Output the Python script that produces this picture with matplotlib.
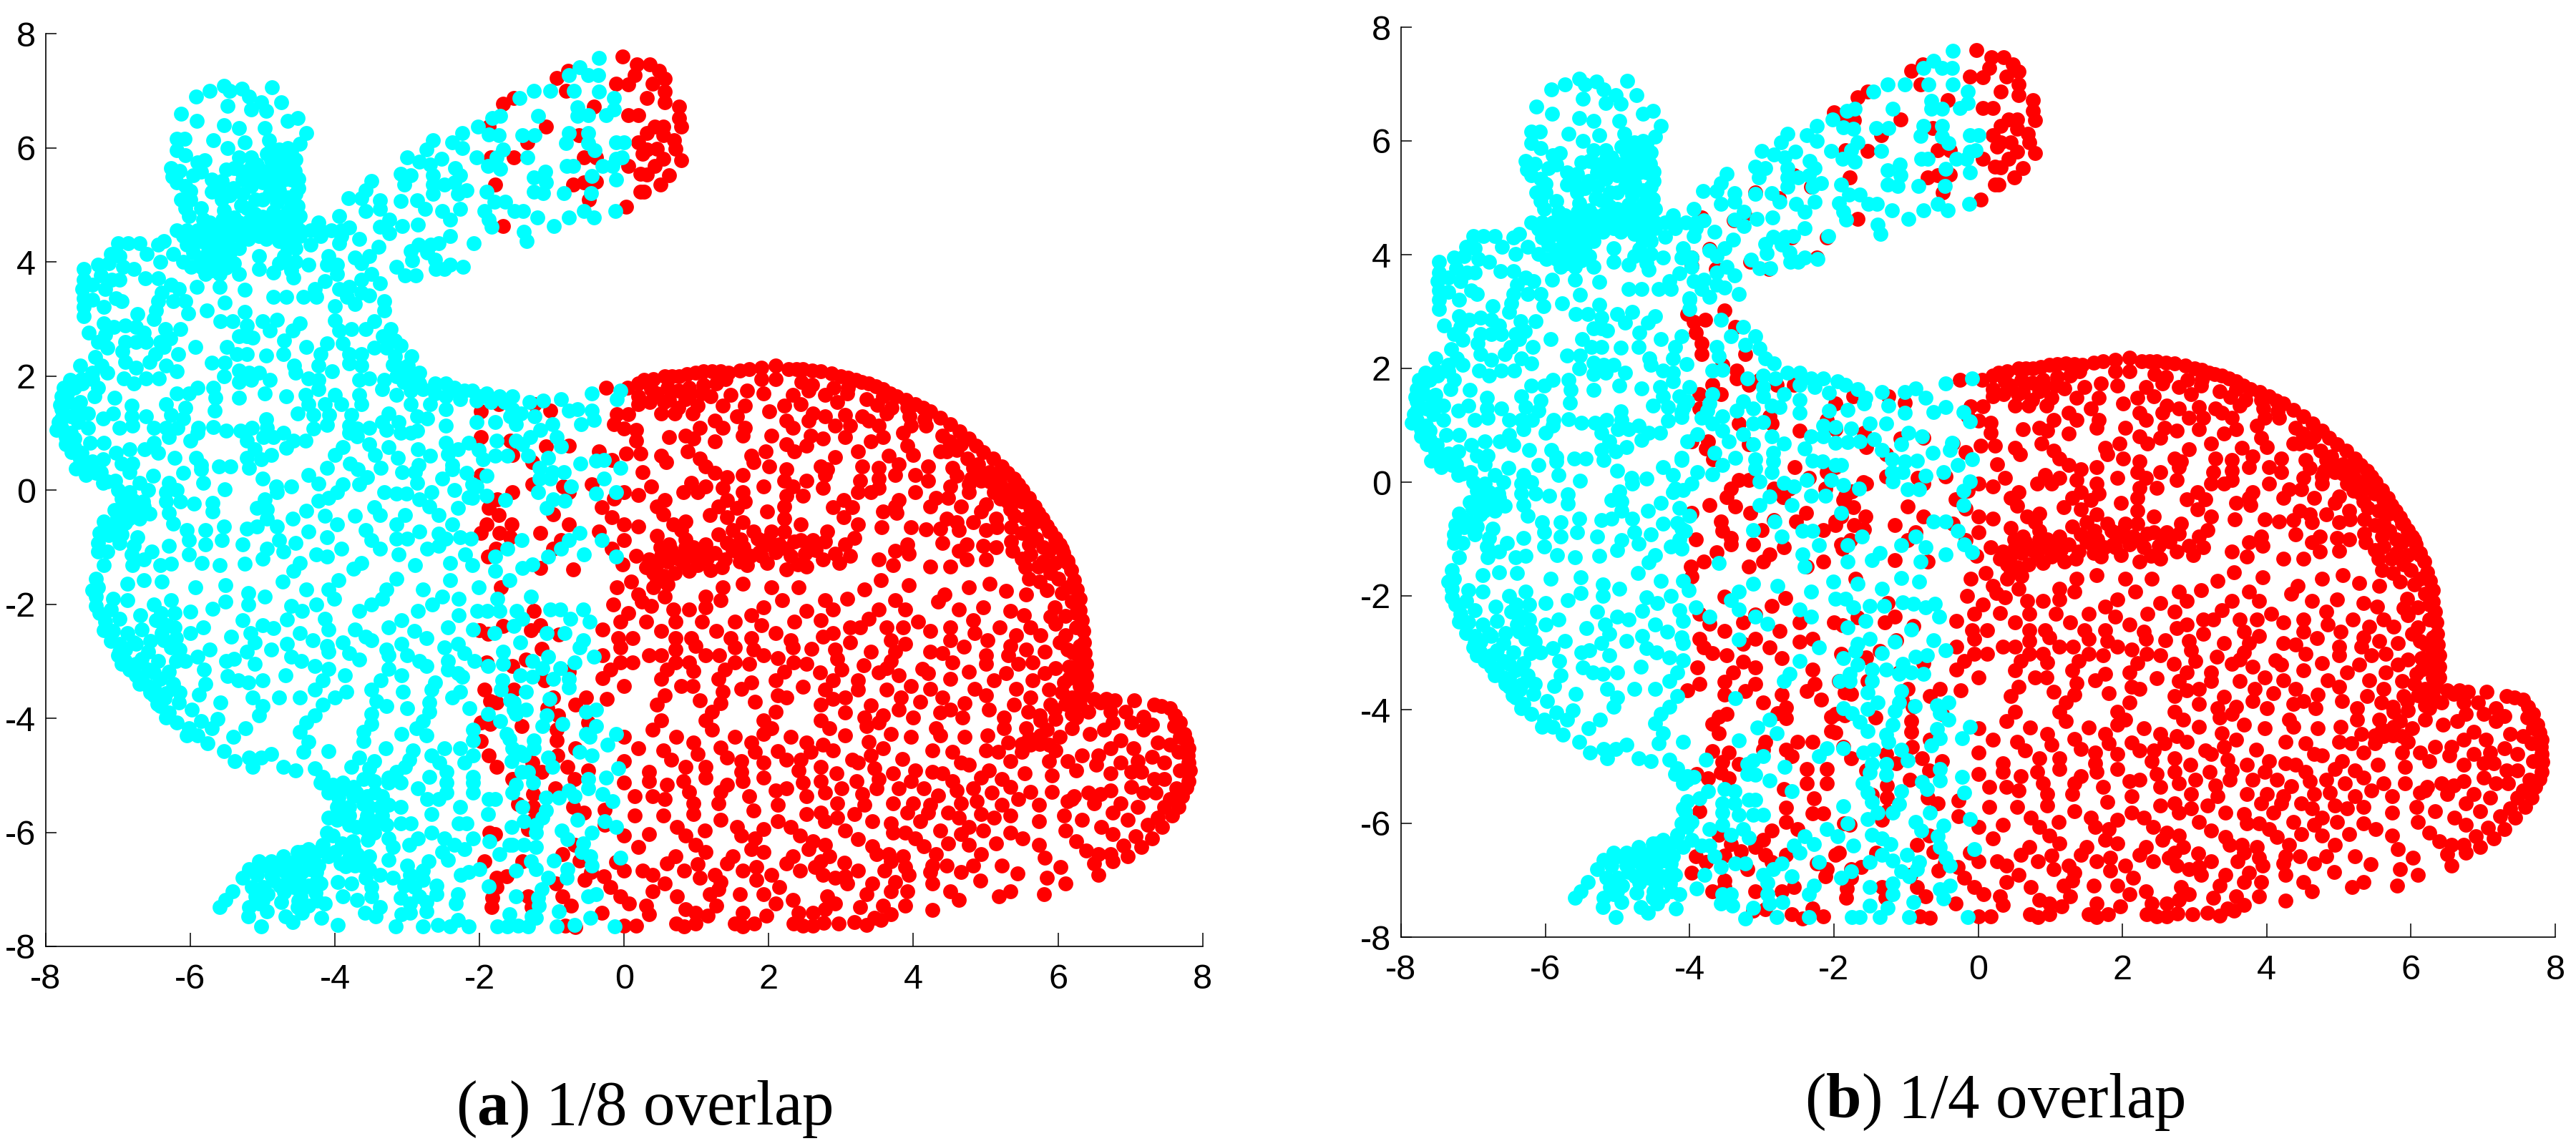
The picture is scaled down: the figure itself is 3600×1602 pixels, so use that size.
#!/usr/bin/env python3
import numpy as np
import matplotlib
matplotlib.use('Agg')
import matplotlib.pyplot as plt

plt.rcParams['font.family'] = ['Liberation Sans', 'DejaVu Sans']
plt.rcParams['axes.unicode_minus'] = False
plt.rcParams['mathtext.fontset'] = 'custom'
plt.rcParams['mathtext.bf'] = 'Liberation Serif:bold'
plt.rcParams['mathtext.rm'] = 'Liberation Serif'

ticks = [-8, -6, -4, -2, 0, 2, 4, 6, 8]
captions = [r'($\mathbf{a}$) 1/8 overlap', r'($\mathbf{b}$) 1/4 overlap']

# head, ear and front of the bunny
ear_cyan = [(-5.92,6.9),(-5.73,7.0),(-5.53,7.09),(-5.45,7.0),(-5.29,7.04),(-5.19,6.9),(-5.02,6.8),(-4.87,7.06),(-4.74,6.8),(-5.16,6.67),(-4.95,6.65),(-5.48,6.74),(-4.51,6.53),(-4.65,6.48),(-4.4,6.26),(-6.13,6.6),(-5.91,6.48),(-5.53,6.4),(-5.33,6.35),(-4.97,6.35),(-6.19,6.16),(-6.08,6.16),(-5.68,6.13),(-5.25,6.1),(-4.91,6.13),(-4.48,6.07),(-4.65,6.0),(-5.48,6.0),(-5.33,5.84),(-5.16,5.84),(-4.94,5.9),(-4.71,5.78),(-4.54,5.8),(-6.19,5.96),(-6.07,5.87),(-6.27,5.65),(-5.8,5.78),(-5.9,5.75),(-5.96,5.52),(-5.5,5.62),(-5.2,5.6),(-5.0,5.6),(-4.85,5.6),(-4.68,5.65),(-4.5,5.46),(-4.7,5.45),
(-6.19,5.39),(-6.07,5.33),(-6.13,5.1),(-6.07,4.94),(-6.02,4.81),(-5.85,4.94),(-5.82,4.75),(-5.7,5.23),(-5.56,5.1),(-5.53,4.91),(-5.39,4.78),(-5.45,5.17),(-5.28,5.45),(-5.28,5.2),(-5.22,4.95),(-5.11,4.85),(-5,5.1),(-5,5.39),(-4.85,4.88),(-4.77,5.26),(-4.65,5.13),(-4.54,5.2),(-4.51,4.98),(-4.48,4.81),(-4.65,4.88),(-4.6,5.45),(-4.94,5.45),(-5.16,5.33),(-5.85,5.58),(-5.7,5.45),(-5.56,5.42),(-5.39,5.65),(-5.08,5.71),(-4.88,5.78),(-4.77,5.97),(-4.88,5.97),(-5.33,4.69),(-5.13,4.75),(-5.73,4.69),(-5.53,4.65),(-4.71,4.69),(-4.54,4.69),(-4.91,4.69),
(-6.19,4.56),(-5.9,4.56),(-5.62,4.56),(-5.33,4.56),(-5.05,4.56),(-4.77,4.56),(-4.48,4.56),(-4.2,4.56),(-3.91,4.56),(-6.05,4.56),(-5.76,4.56),(-5.47,4.56),(-5.19,4.56),(-4.91,4.56),(-4.62,4.56),(-4.34,4.56),(-4.05,4.56),(-5.9,4.46),(-5.62,4.46),(-5.33,4.46),(-5.05,4.46),(-4.77,4.46),(-4.48,4.46),(-4.2,4.46),(-3.91,4.46),(-4.23,4.69),(-3.94,4.81),(-3.8,4.6),
(-6.36,4.37),(-6.44,4.3),(-6.24,4.14),(-6.41,4.01),(-6.1,4.01),(-6.05,4.3),(-5.96,4.17),(-5.87,4.37),(-5.73,4.37),(-5.62,4.24),(-5.48,4.37),(-5.33,4.24),(-5.79,4.11),(-5.99,3.92),(-5.85,3.92),(-5.68,3.98),(-5.53,4.05),(-5.39,3.98),(-5.79,3.79),(-5.59,3.79),(-5.33,3.79),(-5.91,3.56),(-5.59,3.56),(-5.25,3.52),(-5.05,4.11),(-5.05,3.88),(-4.85,3.82),(-4.77,3.98),(-4.65,4.24),(-4.54,4.24),(-4.65,3.98),(-4.54,4.01),(-4.57,3.73),(-4.37,3.95),(-4.34,4.31),(-4.77,4.37),(-3.94,4.33),(-3.66,4.4),(-3.72,4.08),(-4.09,4.11),(-4.11,3.95),(-3.97,3.95),(-3.97,3.79),(-4.14,3.67),(-4.28,3.53),(-4.43,3.39),(-4.26,3.39),(-4.67,3.39),(-4.85,3.39),(-3.94,3.53),(-3.8,3.56),(-3.83,3.39),(-3.63,3.47),(-3.52,3.42),(-3.63,3.69),(-3.49,3.79),(-3.38,3.63),(-3.32,3.31),
(-5.6,5.3),(-5.4,5.3),(-5.3,5.0),(-5.1,5.1),(-4.9,5.2),(-4.8,5.05),(-4.75,4.8),(-4.6,5.0),(-4.5,5.3),(-5.2,4.7),(-5,4.8),(-5.55,4.75),(-5.4,4.6),(-5.7,4.5),(-5.55,4.35),(-5.75,4.25),(-5.45,4.15),(-5.65,4.1),(-5.85,4.05),(-6,4.45),(-6.1,4.45),(-4.95,4.4),(-4.6,4.4),(-4.7,4.1),(-4.6,3.85),(-5.5,3.9),(-5.7,3.85),(-5.2,4.4),(-4.85,5.4),(-4.7,5.6),(-4.55,5.6),(-5.1,5.5),(-5.3,5.6),(-5.15,5.7),(-4.8,5.75),(-4.6,5.95),(-6.25,5.5),(-6.15,5.6),(-6.0,5.1),(-6.0,5.25)]
ear2_cyan = [(-.35,7.58),(-.62,7.41),(-.76,7.28),(-.5,7.28),(-.36,7.28),(-.69,7),(-.35,6.99),(-.14,6.87),(-1.02,7),(-1.25,7),(-1.45,6.87),(-.65,6.71),(-.14,6.67),(-.65,6.56),(-.5,6.57),(-.25,6.58),(-1.19,6.56),(-1.71,6.56),(-1.82,6.53),(-2.02,6.38),(-2.24,6.26),(-1.87,6.24),(-1.73,6.22),(-1.41,6.23),(-1.24,6.23),(-.76,6.26),(-.5,6.26),(-.8,6.09),(-.11,6.1),(0,6.1),(-.5,6.08),(-.41,5.96),(-2.64,6.13),(-2.38,6.1),(-2.24,6.0),(-2.73,5.97),(-1.67,5.97),(-2.53,5.81),(-2.04,5.83),(-1.34,5.83),(-3,5.83),(-2.83,5.76),(-2.68,5.71),(-1.76,5.84),(-1.88,5.68),(-1.71,5.63),(-.79,5.68),(-.7,5.68),(-.3,5.68),(-.11,5.81),(-.03,5.84),(-.16,5.68),(-3.09,5.55),(-2.95,5.52),(-2.64,5.52),(-2.34,5.65),(-2.27,5.52),(-.45,5.51),(-1.09,5.58),(-1.25,5.49),(-1.08,5.39),(-.11,5.45),(-3.04,5.36),(-2.64,5.36),(-2.49,5.36),(-2.35,5.39),(-3.49,5.42),(-2.18,5.26),(-1.9,5.23),(-1.25,5.23),(-1.12,5.21),(-.83,5.21),(-.46,5.21),(-2.64,5.2),(-2.3,5.2),(-3.57,5.26),(-3.09,5.07),(-3.81,5.12),(-3.63,5.12),(-3.38,5.08),(-2.86,5.08),(-1.79,5.06),(-1.64,5.06),(-1.93,4.9),(-2.75,4.93),(-2.52,4.89),(-2.27,4.93),(-1.52,4.89),(-1.4,4.89),(-.56,4.89),(-.12,4.89),(-3.57,4.89),(-3.38,4.93),(-3.25,4.75),(-2.41,4.75),(-1.87,4.75),(-1.2,4.78),(-.76,4.78),(-.42,4.78),(-3.07,4.63),(-2.85,4.65),(-1.83,4.62),(-.97,4.63),(-3.38,4.62),(-3.25,4.5),(-1.39,4.53),(-2.41,4.46),(-1.35,4.37),(-2.08,4.33),(-2.84,4.31),(-2.67,4.31),(-2.56,4.33),(-2.95,4.19),(-2.72,4.17),(-2.93,4.03),(-2.61,4.04),(-2.6,3.88),(-2.41,3.95),(-2.23,3.92),(-3.15,3.91),(-3.03,3.76),(-2.88,3.76),(-2.49,3.88),(-3.4,4.27),(-3.52,4.11),(-3.63,3.98)]

# body of panel (a), cyan side, strip by strip going down
body_cyan = [(-7.47,3.88),(-7.47,3.69),(-7.49,3.53),(-7.47,3.37),(-7.47,3.21),(-7.47,3.05),(-7.27,3.95),(-7.24,3.76),(-7.35,3.6),(-7.35,3.34),(-7.2,3.21),(-7.18,3.53),(-7.09,3.69),(-7.03,3.37),(-6.95,3.31),(-7.1,4.14),(-7,4.33),(-6.86,4.33),(-6.7,4.33),(-6.6,4.14),(-6.98,4.11),(-6.93,3.92),(-7.13,3.98),(-6.98,3.69),(-6.78,3.88),(-6.62,3.71),(-6.44,3.71),(-6.27,3.6),(-6.16,3.53),(-6.39,3.47),(-6.44,3.31),(-6.24,3.31),(-6.07,3.31),(-6.47,3.15),(-6.03,3.1),(-5.77,3.15),(-5.52,3.29),(-6.5,3),(-6.73,3.09),(-5.25,3.12),(-5.58,2.96),(-5.41,2.96),(-5,2.96),(-4.8,2.99),(-4.48,2.92),(-5.22,2.89),(-4.9,2.8),(-4.58,2.8),(-6.34,2.83),(-6.14,2.83),(-5.22,2.7),(-5.33,2.7),(-5.14,2.67),(-4.7,2.63),(-6.28,2.66),(-4,3.23),(-3.72,3.26),(-3.32,3.15),(-4,2.97),(-3.46,2.96),(-3.94,2.8),(-3.77,2.83),(-3.57,2.83),(-3.23,2.83),(-3.89,2.57),(-3.34,2.7),(-3.17,2.63),(-3.46,2.5),(-3.29,2.5),(-3.09,2.54),(-3.8,2.38),(-3.63,2.38),(-3.17,2.35),(-2.94,2.35),(-3.8,2.22),(-3.63,2.18),(-2.99,2.18),(-2.83,2.06),(-3.66,1.94),(-3.52,1.96),(-3.32,1.93),(-3.15,2),(-2.95,2),(-2.83,1.87),(-3.35,1.77),(-3.15,1.67),(-2.95,1.74),(-2.78,1.77),(-2.95,1.51),(-2.68,1.51),(-3.2,2.2),(-3.1,2.15),(-3.05,2.0),(-3.05,1.9),(-2.95,1.9),
(-7.4,2.76),(-7.2,2.92),(-7.06,2.86),(-7.18,2.73),(-7.27,2.6),(-6.9,2.89),(-6.75,2.86),(-6.64,2.76),(-6.75,2.6),(-6.9,2.6),(-6.61,2.6),(-6.41,2.6),(-6.36,2.51),(-5.93,2.51),(-5.49,2.51),(-5.36,2.38),(-5.22,2.38),(-4.4,2.51),(-4.11,2.57),(-4.71,2.38),(-4.95,2.36),(-4.2,2.38),(-7.15,2.5),(-7.31,2.34),(-6.94,2.44),(-6.48,2.38),(-6.17,2.38),(-5.7,2.23),(-5.52,2.23),(-6.33,2.18),(-6.56,2.25),(-4.56,2.18),(-4.23,2.18),(-7.52,2.18),(-7.23,2.18),(-6.9,2.25),(-6.75,2.15),(-6.19,2.09),(-4.54,2.06),(-4.04,2.08),(-5.33,2.1),(-5.19,2.06),(-5.05,2.06),(-5.53,2),
(-7.35,2.06),(-7.15,2.06),(-6.92,1.96),(-6.78,1.87),(-6.61,1.96),(-6.43,1.96),(-4.37,1.96),(-4.23,1.93),(-7.66,1.93),(-7.49,1.87),(-7.27,1.8),(-5.33,1.9),(-5.16,1.93),(-4.9,1.93),(-5.68,1.8),(-5.9,1.8),(-6.19,1.7),(-6.02,1.7),(-4.23,1.77),(-7.75,1.8),(-7.05,1.62),(-5.65,1.62),(-5.33,1.62),(-4.97,1.7),(-4.67,1.65),(-4.41,1.67),(-4,1.67),(-3.66,1.67),(-7.78,1.64),(-7.52,1.54),(-7.32,1.64),(-6.33,1.51),(-6.07,1.44),(-6.81,1.48),(-4.37,1.51),(-4.14,1.51),(-3.91,1.51),(-3.63,1.51),(-7.78,1.42),(-7.41,1.35),(-7.07,1.35),(-6.81,1.29),(-6.61,1.29),(-6.27,1.32),(-6.1,1.26),(-5.66,1.39),(-4.51,1.34),(-4.3,1.32),(-4.08,1.32),(-3.77,1.32),(-3.26,1.35),(-2.86,1.29),(-2.72,1.26),(-7.78,1.26),(-7.21,1.26),(-4.95,1.25),(-3.35,1.2),(-3.12,1.2),(-7.78,1.1),(-7.41,1.1),(-6.98,1.1),(-6.8,1.13),(-6.5,1.1),(-6.33,1.1),(-6.18,1.1),(-5.89,1.1),(-5.68,1.11),(-5.15,1.1),(-4.94,1.1),(-4.11,1.15),(-3.8,1.13),(-3.52,1.1),(-7.72,.93),(-5.5,1.04),(-5.31,1.04),(-4.71,1),(-4.3,1.08),(-3.8,1),(-3.69,1.08),(-3.29,1.05),(-3.09,1),(-2.86,1.04),(-6.3,.93),(-5.9,1),(-7.72,.8),(-7.38,.83),(-7.2,.83),(-6.5,.83),(-6,.87),(-5.22,.87),(-4.99,.93),(-4.85,.93),(-4.57,.87),(-4.41,.87),(-3.69,.94),(-2.95,1),(-2.47,.83),(-7.64,.67),(-6.84,.72),(-6.63,.72),(-6.44,.66),(-7.03,.66),(-5.11,.72),(-4.67,.74),(-3.89,.76),(-3.52,.8),(-3.26,.76),(-2.85,.72),(-7.52,.54),(-7.21,.54),(-6.22,.57),(-5.92,.57),(-5.22,.57),(-5.02,.54),(-4.88,.62),(-4,.62),(-3.45,.62),(-3.13,.57),(-2.68,.6),(-2.44,.63),(-2.3,.72),(-7.58,.38),(-6.95,.47),(-6.8,.47),(-5.85,.44),(-5.6,.42),(-5.44,.42),(-3.79,.47),(-2.84,.44),(-2.38,.44),(-7.44,.26),(-7.24,.32),(-6.84,.32),(-5.85,.36),(-5.19,.39),(-4.11,.39),(-3.68,.36),(-3.37,.39),(-3.07,.32),(-2.89,.32),(-2.38,.36),(-2.18,.3),(-7.21,.13),(-7.04,.17),(-6.51,.25),(-6.1,.3),(-6.3,.13),(-5.82,.13),(-5,.2),(-4.37,.26),(-3.55,.23),(-2.52,.2),(-2.1,.1),(-6.84,-.03),(-6.7,.13),(-6.58,0),(-6.33,-.03),(-6.19,0),(-5.52,.02),(-4.81,.07),(-4.6,.06),(-4.23,.12),(-3.89,.1),(-3.66,.1),(-2.86,.13),(-1.9,-.1),(-2.04,.07),
(-7.8,1.5),(-7.7,1.7),(-7.65,1.3),(-7.65,1.0),(-7.68,1.55),(-7.6,1.8),(-7.55,1.2),(-7.6,.9),(-7.6,.75),(-7.5,.65),(-7.45,.45),(-7.35,.5),(-7.3,.3),(-7.15,.15),(-7.82,1.2),(-7.85,1.05),(-7.55,1.4),(-7.5,1.95),(-7.35,1.95),(-7.0,.0),(-6.95,-.15),(-6.9,-.3),(-7.05,-.35),(-6.65,-.2),(-6.75,-.35),(-7.2,-.55),(-7.25,-.75),(-7.05,-.7),(-6.95,-.78),(-6.85,-.5),
(-6.78,-.18),(-6.33,-.2),(-6.14,-.2),(-5.95,-.24),(-5.69,-.22),(-4.97,-.16),(-4.8,-.03),(-3.97,-.03),(-3.32,-.03),(-3.15,-.06),(-3.01,-.06),(-2.66,-.03),(-2.35,0),(-2.15,-.12),(-6.64,-.28),(-6.87,-.34),(-7.01,-.47),(-7.15,-.64),(-6.9,-.57),(-6.7,-.5),(-6.56,-.41),(-5.69,-.38),(-5.08,-.31),(-4.94,-.34),(-4.4,-.36),(-4.23,-.18),(-4.09,-.14),(-3.46,-.3),(-3.38,-.44),(-2.83,-.16),(-2.69,-.28),(-2.3,-.31),(-2.1,-.14),(-6.3,-.4),(-6.24,-.59),(-4.94,-.5),(-4.58,-.5),(-4.14,-.45),(-3.72,-.45),(-3.03,-.44),(-2.56,-.44),(-3.15,-.6),(-2.83,-.73),(-7.27,-.92),(-7.13,-.79),(-6.98,-.92),(-6.73,-.82),(-6.05,-.7),(-5.79,-.7),(-5.53,-.64),(-5.22,-.67),(-5.08,-.64),(-4.8,-.64),(-4.37,-.73),(-3.97,-.6),(-3.57,-.7),(-2.38,-.6),
(-7.27,-1.07),(-7.15,-1.07),(-6.78,-.98),(-6.81,-1.13),(-6.53,-1.07),(-6.3,-.98),(-6.02,-.88),(-6.02,-1.13),(-5.79,-.95),(-5.56,-.88),(-5.28,-.95),(-4.94,-1.02),(-4.77,-.88),(-4.54,-.92),(-4.11,-.82),(-3.91,-1.02),(-3.49,-.88),(-3.15,-.85),(-3,-.85),(-2.56,-.76),(-2.47,-.85),(-2.27,-.82),(-2.12,-.85),(-2.72,-1.02),(-2.56,-.98),(-4.71,-1.08),(-4.26,-1.13),(-4.11,-1.16),(-3.38,-1.02),(-3.12,-1.13),(-2.2,-1.13),(-7.2,-1.32),(-6.8,-1.32),(-6.64,-1.22),(-6.41,-1.32),(-6.27,-1.29),(-5.84,-1.28),(-5.59,-1.32),(-5.25,-1.29),(-5,-1.2),(-4.48,-1.28),(-4.57,-1.41),(-3.63,-1.28),(-3.74,-1.38),(-2.89,-1.32),(-2.41,-1.28),(-2.1,-1.32),(-1.78,-1.41),
(-7.27,-1.7),(-7.3,-1.87),(-7.07,-1.9),(-6.87,-1.64),(-6.64,-1.58),(-6.39,-1.6),(-5.93,-1.7),(-5.51,-1.67),(-5.2,-1.8),(-4.97,-1.87),(-4.72,-1.6),(-4.4,-1.74),(-4.09,-1.74),(-3.95,-1.58),(-3.29,-1.74),(-3.15,-1.55),(-2.78,-1.74),(-2.41,-1.58),(-2.01,-1.7),(-1.59,-1.58),(-7.3,-2.03),(-7.1,-2.09),(-6.87,-1.93),(-6.69,-2.19),(-6.5,-2),(-6.27,-1.93),(-6,-2.13),(-5.69,-2.08),(-5.51,-1.95),(-5.2,-2),(-4.6,-2.03),(-4.45,-2.12),(-4.26,-2),(-4.01,-1.9),(-3.66,-2.12),(-3.49,-2),(-3.35,-1.9),(-3.08,-2.28),(-2.85,-2.12),(-2.65,-2),(-2.52,-1.87),(-2.29,-1.9),(-2.03,-2.12),(-1.89,-2.12),(-1.72,-2.12),(-1.75,-1.9),
(-7.18,-2.31),(-6.98,-2.25),(-6.47,-2.28),(-6.22,-2.15),(-6.31,-2.37),(-5.82,-2.41),(-5.28,-2.28),(-5,-2.37),(-4.85,-2.42),(-4.66,-2.27),(-4.14,-2.25),(-4.09,-2.44),(-3.72,-2.44),(-3.26,-2.41),(-2.44,-2.41),(-2.29,-2.19),(-2.09,-2.44),(-1.49,-2.12),(-1.29,-1.87),(-1.41,-2.25),(-1.53,-2.38),(-1.02,-2.09),(-.88,-2.09),(-.74,-2.25),(-.57,-2.09),(-.48,-2.31),(-7.07,-2.47),(-6.87,-2.5),(-6.67,-2.44),(-6.39,-2.5),(-6.22,-2.41),(-6,-2.5),(-5.43,-2.57),(-5.17,-2.5),(-4.31,-2.63),(-4.48,-2.5),(-3.57,-2.57),(-3.49,-2.63),(-2.9,-2.47),(-2.73,-2.6),(-1.79,-2.5),(-1.07,-2.5),(-.82,-2.5),(-6.98,-2.7),(-6.78,-2.67),(-6.36,-2.63),(-5.11,-2.67),(-4.66,-2.7),(-4.11,-2.73),(-3.89,-2.67),(-3.08,-2.7),(-2.3,-2.7),(-1.44,-2.67),(-.57,-2.63),(-6.98,-2.83),(-6.58,-2.83),(-6.27,-2.76),(-5.73,-2.79),(-5.22,-2.83),(-4.88,-2.79),(-4.09,-2.83),(-3.8,-2.86),(-3.29,-2.79),(-2.49,-2.76),(-2.21,-2.86),(-1.67,-2.83),(-.62,-2.76),
(-6.9,-2.99),(-6.67,-2.96),(-6.44,-2.99),(-6.07,-2.99),(-5.9,-2.92),(-5.5,-2.99),(-5.39,-2.96),(-4.6,-2.92),(-4.46,-2.99),(-3.66,-2.97),(-3.26,-2.89),(-3,-2.89),(-2.83,-2.99),(-2.44,-2.99),(-2.07,-2.99),(-1.27,-2.99),(-1.05,-2.92),(-.42,-2.92),(-6.84,-3.15),(-6.58,-3.15),(-6.3,-3.18),(-5.81,-3.15),(-5.11,-3.05),(-4.28,-3.08),(-4.09,-3.13),(-3.26,-3.13),(-2.73,-3.08),(-1.88,-3.08),(-1.67,-3.05),(-1.44,-3.24),(-1.27,-3.27),(-1.13,-3.12),(-.88,-3.12),(-.68,-3.02),(-6.67,-3.31),(-6.41,-3.31),(-5.48,-3.26),(-4.68,-3.24),(-3.86,-3.24),(-3.08,-3.24),(-2.44,-3.15),(-2.3,-3.21),(-2.24,-3.27),(-.98,-3.31),(-.76,-3.31),(-6.58,-3.44),(-6.24,-3.4),(-5.79,-3.4),(-5.34,-3.34),(-5.2,-3.37),(-5,-3.34),(-4.17,-3.34),(-3.37,-3.34),(-2.61,-3.37),(-1.68,-3.34),(-.76,-3.46),
(-7.3,-1.55),(-7.35,-1.75),(-7.25,-2.15),(-7.2,-2.45),(-7.1,-2.65),(-7.0,-2.9),(-6.9,-2.8),(-6.95,-3.05),(-6.75,-3.25),(-6.7,-3.4),(-6.55,-3.55),(-6.45,-3.75),(-6.3,-3.9),(-6.75,-3.05),(-6.5,-3.2),(-6.5,-3.45),(-6.35,-3.65),(-6.75,-2.7),(-6.55,-2.65),(-6.4,-2.3),(-6.4,-2.15),(-6.2,-2.6),(-6.15,-2.8),(-6.2,-3.0),(-6.15,-3.55),(-6.05,-4.3),(-5.9,-4.3),
(-6.5,-3.6),(-6.33,-3.56),(-5.88,-3.58),(-5.14,-3.63),(-4.77,-3.63),(-4.48,-3.64),(-4.28,-3.5),(-4,-3.64),(-3.84,-3.53),(-3.49,-3.5),(-3.06,-3.53),(-2.66,-3.5),(-2.38,-3.64),(-2.27,-3.53),(-1.7,-3.5),(-1.36,-3.53),(-6.41,-3.79),(-6.16,-3.72),(-5.58,-3.72),(-5,-3.79),(-4.17,-3.76),(-3.43,-3.7),(-3.29,-3.79),(-2.69,-3.72),(-2.14,-3.82),(-1.53,-3.72),(-1.03,-3.66),(-6.33,-3.98),(-5.98,-3.85),(-5.05,-3.95),(-4.28,-3.95),(-3.49,-3.92),(-3,-3.82),(-2.69,-3.88),(-1.88,-3.92),(-1.5,-3.92),(-1.36,-3.85),(-6.19,-4.08),(-5.85,-4.05),(-5.62,-4.01),(-4.4,-4.08),(-3.49,-4.1),(-2.78,-4.05),(-1.71,-4.05),(-1.07,-3.95),(-6.02,-4.17),(-5.7,-4.17),(-5.24,-4.17),(-4.48,-4.24),(-3.6,-4.24),(-2.87,-4.17),(-2.09,-4.2),(-1.62,-4.27),(-1.13,-4.14),(-.85,-4.1),(-5.4,-4.33),(-3.08,-4.27),(-2.73,-4.3),(-2.09,-4.39),(-1.25,-4.39),(-3.6,-4.4),(-4.37,-4.41),(-5.76,-4.44),
(-5.53,-4.57),(-4.09,-4.57),(-3.3,-4.53),(-2.49,-4.53),(-2.27,-4.53),(-2.92,-4.56),(-4.43,-4.59),(-1.55,-4.53),(-1.25,-4.53),(-5.38,-4.75),(-5.19,-4.69),(-5.02,-4.69),(-4.88,-4.62),(-4.71,-4.85),(-4.54,-4.91),(-4.28,-4.88),(-3.66,-4.69),(-3.46,-4.75),(-2.97,-4.72),(-2.66,-4.65),(-2.09,-4.65),(-1.56,-4.75),(-1.39,-4.65),(-1.05,-4.69),(-5.14,-4.85),(-3.77,-4.85),(-3.52,-4.88),(-2.69,-5.03),(-2.55,-4.78),(-2.21,-4.78),(-3.03,-4.85),(-.99,-4.85),
(-4.17,-5.03),(-4.2,-5.13),(-4.03,-5.17),(-3.89,-5.13),(-3.74,-5.2),(-3.6,-5.07),(-3.46,-5.1),(-3.26,-5.04),(-3.15,-4.94),(-3.26,-5.13),(-3.09,-5.13),(-2.46,-4.94),(-2.46,-5.13),(-2.46,-5.3),(-2.09,-5.03),(-2.09,-5.13),(-2.09,-5.3),(-2.85,-5.23),(-1.33,-4.94),(-1.42,-4.94),(-1.26,-5.13),(-4.09,-5.3),(-3.95,-5.39),(-3.74,-5.36),(-3.55,-5.36),(-3.35,-5.36),(-3.26,-5.52),(-3.09,-5.55),(-2.72,-5.41),(-2.56,-5.41),(-1.87,-5.41),(-1.78,-5.41),(-1.55,-5.3),(-1.5,-5.17),(-1.08,-5.39),(-.9,-5.39),(-.76,-5.26),(-.68,-5.36),(-.5,-5.07),(-.5,-5.23),(-.25,-5.04),(-.3,-5.33),(-.16,-5.46),(-3.97,-5.55),(-3.8,-5.55),(-3.52,-5.55),(-3.38,-5.55),(-2.27,-5.55),(-2.66,-5.68),(-1.88,-5.68),(-1.41,-5.55),(-1.08,-5.62),(-1.13,-5.74),(-1.22,-5.87),(-1.39,-5.81),(-1.56,-5.9),(-.65,-5.78),(-.27,-5.81),(-4.09,-5.74),(-3.97,-5.78),(-3.8,-5.71),(-3.8,-5.87),(-3.57,-5.81),(-3.43,-5.81),(-3.29,-5.87),(-3.09,-5.84),(-2.95,-5.84),(-2.29,-5.84),(-2.18,-5.84),(-.11,-5.9),(-4.11,-6),(-4.03,-6.06),(-3.57,-5.94),(-3.46,-6),(-2.66,-6),(-.86,-5.97),(-.78,-6.12),(-1.22,-6),(-.45,-6),(-.57,-6.2),
(-4.17,-6.22),(-3.91,-6.26),(-3.74,-6.26),(-3.54,-6.13),(-3.26,-6.1),(-2.85,-6.1),(-2.49,-6.1),(-2.09,-6.1),(-1.86,-6.16),(-1.55,-6.22),(-1.39,-6.22),(-1.22,-6.26),(-.59,-6.35),(-4.37,-6.29),(-4.51,-6.35),(-4.71,-6.42),(-4.88,-6.51),(-5.05,-6.51),(-3.2,-6.26),(-2.97,-6.22),(-2.52,-6.35),(-2.35,-6.22),(-2.21,-6.29),(-2.44,-6.48),(-1.72,-6.38),(-1.59,-6.22),(-.47,-6.42),(-.45,-6.58),(-.05,-6.44),(-4.09,-6.42),(-3.8,-6.45),(-3.69,-6.38),(-3.52,-6.42),(-3.26,-6.48),(-3,-6.58),(-2.7,-6.51),(-1.29,-6.51),(-.97,-6.5),(-5.19,-6.64),(-4.99,-6.58),(-4.71,-6.55),(-4.54,-6.51),(-4.37,-6.51),(-4.23,-6.58),(-3.92,-6.55),(-3.72,-6.58),(-3.52,-6.64),(-2.78,-6.67),(-2,-6.64),(-2.15,-6.7),(-1.5,-6.67),(-1.22,-6.64),(-.78,-6.64),(-5.28,-6.8),(-5.08,-6.74),(-4.88,-6.74),(-4.68,-6.7),(-4.45,-6.7),(-4.26,-6.7),(-3.57,-6.8),(-3.38,-6.74),(-3.2,-6.8),(-2.96,-6.74),(-2.78,-6.83),(-2.26,-6.74),(-1.05,-6.8),(-.79,-6.8),(-5.41,-7.03),(-5.15,-6.96),(-4.99,-6.96),(-4.76,-6.93),(-4.57,-6.96),(-4.37,-6.93),(-4.2,-6.9),(-3.96,-6.87),(-3.77,-6.9),(-3.04,-6.93),(-2.9,-6.96),(-2.59,-6.93),(-1.87,-6.95),(-1.14,-7),(-5.51,-7.19),(-5.59,-7.31),(-5.1,-7.12),(-4.93,-7.09),(-4.47,-7.12),(-4.27,-7.06),(-3.89,-7.12),(-3.49,-6.96),(-3.49,-7.12),(-3.09,-7.15),(-2.83,-7.12),(-2.59,-7.09),(-2.3,-7.09),(-1.5,-7.12),(-1.19,-7.15),(-.5,-7.12),(-.39,-7.09),(-5.19,-7.31),(-5.05,-7.25),(-4.74,-7.22),(-4.51,-7.31),(-4.37,-7.28),(-4.14,-7.25),(-3.69,-7.19),(-3.38,-7.31),(-2.96,-7.25),(-2.73,-7.22),(-2.33,-7.25),(-1.18,-7.28),(-.9,-7.38),(-5.2,-7.47),(-4.94,-7.38),(-4.68,-7.47),(-4.45,-7.41),(-4.19,-7.5),(-3.58,-7.41),(-3.44,-7.47),(-2.96,-7.41),(-2.73,-7.38),(-1.59,-7.44),(-1.28,-7.47),(-.47,-7.5),(-5.02,-7.65),(-4.58,-7.57),(-3.96,-7.62),(-3.16,-7.65),(-3.08,-7.44),(-2.78,-7.65),(-2.57,-7.62),(-2.41,-7.65),(-2.3,-7.54),(-2.15,-7.65),(-1.75,-7.65),(-1.61,-7.65),(-1.47,-7.63),(-1.33,-7.65),(-1.22,-7.5),(-.93,-7.65),(-.68,-7.62),(-.13,-7.65),
(-4.75,-6.65),(-4.55,-6.65),(-4.35,-6.65),(-4.5,-6.8),(-4.25,-6.85),(-4.65,-6.85),(-4.45,-7.0),(-4.85,-6.85),(-5,-7.2),(-4.7,-7.05),(-4.25,-7.2),(-4.5,-7.2),(-4.45,-6.35),(-4.25,-6.35),(-3.75,-6.15),(-3.7,-5.3),(-3.9,-5.25),(-3.85,-5.7),(-3.7,-5.9),(-3.55,-5.7),(-3.45,-5.3),(-3.35,-5.7),(-3.6,-5.5),(-3.9,-6.2),(-4,-6.35),(-3.85,-6.6),(-3.6,-6.6)]

# neck and overlap band of panel (a)
overlap_cyan_a = [(-2.61,1.87),(-2.47,1.87),(-2.61,1.7),(-2.35,1.8),(-2.21,1.74),(-2.1,1.74),(-1.9,1.7),(-1.72,1.64),(-1.55,1.64),(-2.47,1.64),(-2.27,1.6),(-2.04,1.57),(-1.84,1.54),(-1.31,1.54),(-1.12,1.57),(-.87,1.6),(-.45,1.7),(-.05,1.75),(-.1,1.6),(-1.55,1.42),(-1.43,1.35),(-.65,1.42),(-.45,1.39),(-.76,1.39),(-1.24,1.29),(-2.47,1.42),(-2.47,1.13),(-.42,1.23),(-.6,1.16),(-1.58,1.29),(-2.04,1.2),(-1.78,1.2),(-1.5,1.16),(-2.4,1.75),(-2.0,1.65),(-1.65,1.55),
(-2.15,.83),(-2.01,.7),(-1.95,.54),(-1.76,.87),(-1.78,.6),(-1.61,.6),(-1.5,.87),(-1.3,.93),(-1.16,1.06),(-.99,1.16),(-.93,.93),(-.87,.77),(-1.41,.81),(-1.33,.6),(-1.05,.57),(-1.17,.39),(-.99,.32),(-.83,.32),(-.61,.47),(-.39,.52),(-.28,.53),(-.05,.39),(-.28,.2),(-1.17,.2),(-1.02,.2),(-1.9,.25),(-1.19,-.03),(-.73,.07),(-.39,-.06),(-.11,-.03),(-.98,-.16),(-1.07,-.31),(-.82,-.18),(-1.64,-.17),(-1.42,-.88),(-1.61,-1.02),(-1.78,-1.17),(-1.05,-1.17),(-.76,-.88),(-.62,-.75),(-.56,-1.13),(-.87,-1.02),(-.31,-.88),(-.11,-1.16),(-1.41,-1.37),(-1.27,-1.3),(-1.58,-3.69),(-1.53,-3.85),(-1.59,-4.36),(-1.44,-4.59),(-.11,-4.27),(-.48,-4.33),(-.62,-4.59),(-.45,-4.65),(-.53,-4.27),(-.39,-3.85),(-.53,-3.88),(-.39,-4.14),(-.23,-4.46),(-.08,-4.88)]

# cyan of panel (b) where it differs from panel (a)
overlap_cyan_b = [(-4,3.21),(-4,3.05),(-3.57,2.86),(-3.43,2.57),(-3.26,2.73),(-3.09,2.57),(-3.23,2.41),(-3.63,2.38),(-3.6,2.22),(-3.03,2.35),(-2.95,2.18),(-2.83,2.09),(-3.69,1.96),(-3.55,1.97),(-3.2,1.83),(-2.98,1.87),(-2.81,1.83),(-2.98,1.67),(-2.98,1.51),(-4,1.67),(-3.69,1.55),(-2.69,1.55),(-4.03,1.42),(-3.72,1.38),(-2.86,1.35),(-2.75,1.32),(-4.11,1.23),(-3.75,1.26),(-3.26,1.42),(-3.12,1.29),(-3.35,1.26),(-3.55,1.16),(-3.83,1.13),(-3.69,1.03),(-3.12,1.03),(-2.98,1.06),(-3.55,.91),(-3.26,.84),(-3.89,.84),(-3.46,.72),(-2.86,.81),(-3.12,.67),(-4.03,.72),(-3.66,.52),(-3.37,.43),(-4.11,.43),(-2.69,.68),(-2.84,.52),(-3.09,.4),(-3.09,.24),(-2.84,.37),(-3.55,.3),(-3.69,.14),(-3.89,.17),(-2.86,.17),(-3.97,-.02),(-3.03,.01),(-2.69,-.01),(-2.55,-.08),(-4.2,-.11),(-2.89,-.25),(-3.03,-.4),(-2.58,-.4),(-2.38,.04),(-2.32,-.24),(-2.12,-.24),(-4,-.59),(-4.17,-.72),(-4.06,-.85),(-3.12,-.84),(-2.82,-.69),(-2.72,-.96),(-2.44,-.85),(-2.3,-.85),(-4.14,-1),(-4.11,-1.17),(-2.21,-1.11),(-2.44,-1.27),(-3.6,-1.42),(-2.41,-1.49),
(-2.64,1.93),(-2.47,1.93),(-2.32,1.83),(-2.15,1.83),(-1.95,1.77),(-2.47,1.71),(-2.27,1.67),(-2.07,1.57),(-1.84,1.71),(-1.67,1.64),(-2.47,1.45),(-2.47,1.22),(-1.56,1.48),(-2.07,1.26),(-1.81,1.27),(-1.58,1.38),(-1.24,1.35),(-1.33,1.58),(-1.02,1.58),(-.87,1.65),(-.73,1.48),(-.45,1.74),(-.45,1.32),(-.62,1.23),(-.08,1.83),(-.2,1.23),(-.11,1.07),(-2.15,1),(-1.98,.97),(-1.76,.94),(-1.5,1.03),(-1.27,1.03),(-1.02,1.22),(-.97,.87),(-.78,.81),(-2.32,.81),(-2.41,.59),(-2.15,.81),(-1.98,.69),(-1.81,.7),(-1.64,.72),(-1.44,.75),(-1.33,.57),(-1.07,.67),(-.63,.52),(-.36,.69),(-.39,.56),(-2.3,.38),(-2.16,.36),(-1.98,.3),(-1.9,.3),(-1.2,.4),(-1.02,.36),(-.85,.38),(-.28,.3),(-.08,.4),(-1.2,.17),(-1.05,.17),(-1.19,.01),(-.73,.11),(-.48,.17),(-.11,.01),(-2.04,.04),(-1.87,-.05),(-1.65,-.11),(-.98,-.13),(-.82,-.13),(-.2,-.15),(-.2,-.4),(-1.9,-.54),(-1.61,-.96),(-1.81,-1.11),(-1.07,-1.11),(-.87,-.96),(-.62,-.69),(-.45,-.69),(-.28,-.85),(-.19,-1.1),(-.08,-1.23),(-.73,-1.14),(-.45,-1.27),(-1.36,-1.24),(-1.47,-1.37),(-1.81,-1.39),(-.8,-1.39),
(-3.91,-2.2),(-3.72,-2.37),(-3.43,-2.08),(-3.32,-1.92),(-3.12,-1.79),(-3.32,-2.24),(-3.09,-2.37),(-2.92,-2.49),(-3.32,-2.77),(-2.78,-1.82),(-2.32,-1.92),(-2.47,-2.24),(-2.32,-2.37),(-2.01,-1.75),(-1.98,-2.05),(-1.84,-2.05),(-1.73,-2.2),(-1.67,-1.79),(-1.33,-1.88),(-1.5,-2.17),(-1.3,-2.17),(-1.56,-2.44),(-1.81,-2.55),(-1.05,-2.11),(-.9,-2.14),(-.73,-2.2),(-.6,-2.14),(-.54,-2.37),(-.93,-2.59),(-.62,-2.78),(-.45,-2.96),(-1.07,-1.69),(-.82,-1.75),(-1.5,-2.75),(-1.67,-2.84),(-1.7,-2.97),(-2.21,-2.91),(-2.47,-3.15),(-1.87,-3.1),(-1.16,-2.81),(-1.33,-3),(-1.05,-3.2),(-.87,-3.07),(-.71,-3.05),(-1.67,-3.21),(-1.78,-3.37),(-1.47,-3.29),(-1.27,-3.29),(-1.1,-3.37),(-.93,-3.34),(-.76,-3.37),(-2.61,-3.37),(-2.69,-3.5),(-1.92,-3.5),(-1.78,-3.5),(-1.47,-3.5),(-1.53,-3.7),(-1.07,-3.67),(-3.37,-3.8),(-1.1,-3.87),(-1.39,-3.87),(-1.53,-3.99),(-1.87,-3.98),(-1.16,-4.03),(-1.75,-4.06),(-.57,-3.93),(-.41,-3.87),(-.53,-4.06),(-.41,-4.18),(-2.89,-4.18),(-3.06,-4.31),(-2.79,-4.41),(-.88,-3.94),(-1.19,-4.26),(-1.64,-4.21),(-1.53,-4.38),(-1.27,-4.44),(-1.24,-4.57),(-.11,-4.3),(-.22,-4.5),(-.57,-4.34),(-.53,-4.5),(-3.32,-4.54),(-2.1,-4.68),(-2.21,-4.82),(-1.87,-4.68),(-1.45,-4.7),(-1.59,-4.76),(-1.07,-4.7),(-.98,-4.89),(-.65,-4.63),(-3.77,-4.88),(-2.98,-4.82),(-3.12,-4.89),(-3.2,-4.95),(-2.68,-5),(-3.2,-5.13),(-3.09,-5.14),(-2.89,-5.24),(-1.47,-4.95),(-1.27,-4.95),(-1.5,-5.11),(-1.27,-5.14),(-1.6,-5.3),(-.53,-5.05),(-.53,-5.24),(-.22,-5.18),(-.19,-5.46),(-1.07,-5.43),(-.78,-5.27),(-.71,-5.4),(-2.58,-5.44),(-1.53,-5.46),(-1.47,-5.62),(-1.1,-5.66),(-1.19,-5.81),(-1.87,-5.7),(-.67,-5.81),(-.11,-5.93),(-1.39,-5.81),(-1.53,-5.93),(-1.81,-6),(-.87,-5.97),(-.79,-6.13),(-.48,-6.04),(-.56,-6.23),(-.53,-6.42),(-.45,-6.61),(-.39,-6.74),(-.05,-6.45),(-.99,-6.55),(-.82,-6.68),(-.85,-6.8),(-2.1,-6.1),(-2.41,-6.23),(-2.55,-6.39),(-2.47,-6.52),(-2.28,-6.36),(-1.95,-6.23),(-1.73,-6.39),(-1.47,-6.2),(-1.33,-6.26),(-1.22,-6.36),(-1.5,-6.68),(-1.33,-6.55),(-1.19,-6.65),(-1.07,-6.84),(-.96,-6.93),(-2.21,-6.68),(-1.76,-6.84),(-1.9,-6.96),
(-4.03,-5.23),(-3.94,-5.18),(-3.74,-5.44),(-3.86,-5.56),(-4.03,-5.61),(-4.06,-5.8),(-3.97,-5.98),(-3.52,-5.4),(-3.38,-5.43),(-3.55,-5.65),(-3.38,-5.65),(-3.18,-5.59),(-3.09,-5.59),(-3.55,-5.81),(-3.32,-5.85),(-3.12,-5.85),(-2.98,-5.85),(-3.55,-6.03),(-3.43,-6.2),(-3.72,-6.1),(-3.26,-6.1),(-3.18,-6.25),(-4.17,-6.2),(-3.97,-6.29),(-3.83,-6.39),(-3.72,-6.39),(-3.66,-6.58),(-3.57,-6.77),(-3.37,-6.7),(-3.23,-6.7),(-2.72,-6.7),(-2.84,-6.8),(-2.98,-6.9),(-2.58,-6.93),(-3.79,-6.9),(-3.9,-7.15),(-3.55,-7.25),(-3.57,-7.41),(-3.41,-7.45),(-3.43,-7.25),(-2.92,-7.05),(-2.92,-7.25),(-2.89,-7.41),(-3.12,-7.48),(-3.23,-7.67),(-2.79,-7.65),(-2.71,-7.38),(-2.35,-7.25),(-2.28,-7.09),(-2.35,-7.65),(-1.75,-7.65),(-1.64,-7.65),(-1.5,-7.45),(-1.36,-7.65),(-1.25,-7.48),(-1.19,-7.25),(-1.19,-7.06),(-1.5,-7.12),(-.9,-7.38),(-.96,-7.65),(-.53,-7.16),(-.39,-7.09),(-.48,-7.32),(-.14,-7.65)]

# red of panel (b) that panel (a) does not have
overlap_red_b = [(-3.09,5.1),(-2.76,4.99),(-3.24,4.7),(-3.39,4.6),(-3.83,4.65),(-3.72,4.1),(-3.97,3.95),(-3.97,3.8),(-3.64,3.75),(-3.16,3.88),(-2.9,3.75),(-2.58,4.3),(-2.1,4.3),(-2.24,3.95),(-2.58,3.9),(-2.32,5.2),(-2.55,5.4),(-2,6.5),(-1.72,6.37),
(-4.03,2.95),(-3.94,2.82),(-3.78,2.86),(-3.52,3.02),(-3.91,2.63),(-3.37,2.73),(-3.83,2.44),(-3.83,2.25),(-3.23,2.25),(-3.55,2.06),(-3.35,1.96),(-3.35,1.83),(-3.03,1.8),(-3.18,1.71),(-3.69,1.71),(-3.86,1.55),(-3.57,1.55),(-2.79,1.71),(-2.55,1.71),(-2.89,1.16),(-2.86,1.03),(-3.32,1.03),(-3.86,1.29),(-2.1,1.1),(-2.47,.91),(-3.97,.72),(-3.74,.72),(-3.77,.59),(-3.68,.4),(-3.18,.67),(-2.54,.27),(-2.35,.08),(-2.1,.17),(-3.32,.04),(-3.18,.04),(-3.43,-.11),(-3.49,-.27),(-3.37,-.43),(-3.72,-.4),(-2.83,-.11),(-2.61,-.11),(-2.7,-.27),(-3.16,-.54),(-3.97,-.54),(-3.57,-.69),(-3.55,-.85),(-3.43,-.98),(-3.43,-1.1),(-3.12,-1.1),(-3.91,-1),(-2.83,-.67),(-3,-.84),(-2.52,-.69),(-2.39,-.54),(-2.15,-.84),(-1.98,-.69),(-2.69,-1.14),(-2.89,-1.27),(-3.63,-1.23),(-3.8,-1.39),(-3.98,-1.49),(-3.18,-1.49),(-2.98,-1.39),(-2.38,-1.49),(-2.15,-1.39),(-1.9,-1.1),(-1.84,-.24),(-1.59,0),(-2.12,-.11),
(-3.97,-1.66),(-3.52,-2.01),(-3.86,-2.32),(-3.72,-2.49),(-3.52,-2.62),(-3.86,-2.75),(-3.8,-2.91),(-3.69,-3),(-3.49,-3.04),(-3.89,-3.26),(-3.86,-3.55),(-4.03,-3.66),(-3.52,-3.51),(-3.4,-3.34),(-3.26,-2.46),(-3.26,-2.84),(-3.26,-3.16),(-3.09,-2.33),(-3.09,-2.75),(-3.09,-3.26),(-3.09,-3.55),(-3.23,-3.67),(-3.52,-3.74),(-2.98,-3.87),(-2.86,-2.17),(-2.75,-2.62),(-2.89,-2.91),(-2.72,-3.1),(-2.67,-2.04),(-2.47,-2.46),(-2.47,-2.81),(-2.3,-2.75),(-2.3,-3.29),(-2.27,-3.55),(-2.38,-3.67),(-2.72,-3.74),(-2.18,-3.83),(-2.66,-3.96),(-2.78,-4.06),(-2.66,-4.15),(-3.49,-4.07),(-3.6,-4.12),(-3.69,-4.25),(-3.6,-4.41),(-2.95,-4.57),(-2.98,-4.7),(-2.5,-4.56),(-2.3,-4.56),(-2.66,-4.7),(-2.58,-4.82),(-3.69,-4.73),(-3.46,-4.76),(-3.55,-4.92),(-3.9,-5.13),(-3.74,-5.21),(-3.57,-5.11),(-3.46,-5.21),(-3.32,-4.95),(-2.38,-5.05),(-2.38,-5.3),(-2.1,-5.05),(-2.1,-5.3),(-2.69,-5.4),(-2.66,-5.72),(-2.28,-5.56),(-2.3,-5.83),(-2.15,-5.83),(-2.66,-5.97),(-2.5,-6.1),(-2.86,-6.13),(-3.86,-5.78),(-3.6,-6.2),(-2.98,-6.29),(-3.09,-6.42),(-3.43,-6.36),(-3.29,-6.49),(-3.52,-6.56),(-3.91,-6.58),(-3.77,-6.68),(-3.97,-6.87),(-3.2,-6.8),(-2.95,-6.55),(-2.86,-6.68),(-2.66,-6.55),(-3.52,-7),(-3.69,-7.19),(-3.52,-7.12),(-3.09,-7.19),(-2.72,-7.19),(-2.55,-7.12),(-2.12,-6.93),(-1.98,-6.55),(-2.24,-6.71),(-2.1,-6.8),(-2.58,-7.6),(-2.44,-7.67),(-2.3,-7.5),(-2.15,-7.63),(-3.12,-7.54),(-2.95,-7.51),(-2.04,-4.12),(-2.04,-4.38)]

# red points seen in both panels
ear_red = [(.35,7.47),(.48,7.35),(.56,7.22),(.39,7.13),(.56,6.99),(.31,6.87),(.56,6.8),(.76,6.72),(.76,6.53),(.79,6.37),(.42,6.38),(.54,6.38),(.31,6.26),(.54,6.22),(.69,6.13),(.71,5.98),(.45,5.98),(.31,5.97),(.54,5.81),(.79,5.79),(.42,5.68),(.62,5.52),(.31,5.53),(.5,5.36),(.28,5.23),(-.02,7.6),(.18,7.47),(.15,7.28),(-.11,7.13),(.06,7.12),(-.42,6.72),(.06,6.58),(.2,6.58),(.2,6.1),(.26,5.9),(.06,5.68),(.23,5.55),(.23,5.23),(.03,4.97),(-.49,5.1),(-.39,5.41),(-.56,5.84),(-.39,5.84),(-.7,5.36),(-.56,5.39),(-.63,6.23),(-.93,7.23),(-.8,7),(-.77,7.35),(-1.08,6.38),(-1.34,6.1),(-1.53,5.83),(-1.78,5.36),(-1.67,4.63),(-1.84,5.84),(-1.87,6.38),(-1.67,6.77),(-1.53,6.87)]
mid_red = [(-.25,1.8),(-1.73,1.51),(-1.24,1.51),(-1.02,1.4),(-1.98,1.38),(-1.98,.93),(-1.58,.87),(-1.55,.62),(-1.27,.49),(-1.08,.77),(-.76,.78),(-.35,.68),(-.17,.53),(-1.98,.26),(-1.27,.1),(-.84,.07),(-.76,-.03),(-.45,.1),(0,-.03),(.2,-.08),(-.14,-.15),(-1.55,-.03),(-1.75,-.16),(-1.87,-.31),(-1.73,-.44),(-1.9,-.6),(-1.98,-.75),(-1.56,-.6),(-1.72,-.75),(-1.58,-.83),(-1.16,-.75),(-.76,-.6),(-.35,-.73),(-.31,-.3),(-.17,-.47),(-.98,-.43),(0,-.6),(0,-.88),(.2,-.64),(-.17,-1.02),(-.98,-1.02),(-.87,-.88),(-1.77,-1.02),(-1.88,-1.17),(-1.16,-1.37),(-.7,-1.39),(-.02,-1.3),(.17,-1.15),(-.14,1.16),(.06,1.33),(.2,1.51),(-.1,1.33),(0,1.08),(.17,1.05),(.05,1.8),(.2,1.87),(.2,1.64),(.17,.87),(.03,.64),(.23,.64),(.26,.32),(.1,-1.6),(-.1,-1.7),(.25,-1.95),(-.15,-2.0),(.3,-2.3),
(-1.7,-1.7),(-1.25,-2.12),(-1.67,-2.38),(-2,-2.46),(-1.88,-2.52),(-1.16,-2.37),(-1.29,-2.46),(-.9,-2.53),(-1.14,-2.78),(-1.36,-2.97),(-1.9,-3.02),(-1.55,-3.08),(-1.1,-3.34),(-.76,-3.18),(-.3,-2.44),(-.3,-2.89),(-.05,-2.31),(.06,-2.15),(-.08,-2.6),(-.05,-2.76),(.12,-2.6),(-.05,-3.02),(-.19,-3.15),(.12,-3.02),(-.3,-3.3),(0,-3.44),(.2,-1.83),(-1.93,-3.5),(-1.85,-3.7),(-1.76,-3.72),(-1.53,-3.5),(-.98,-3.63),(-1.06,-3.82),(-.53,-3.63),(-.67,-3.76),(-.24,-3.66),(-1.98,-4.08),(-1.85,-4.1),(-1.98,-4.4),(-1.42,-4.14),(-.91,-3.95),(-.93,-4.2),(-.93,-4.39),(-.5,-4.08),(-1.87,-4.65),(-1.76,-4.85),(-1.27,-4.78),(-1.14,-4.94),(-.92,-4.65),(-.78,-4.85),(-.67,-4.53),(0,-4.33),(.2,-4.53),(0,-4.75),(0,-5.13),(.15,-5.36),(.15,-5.71),(-1.55,-5.07),(-1.26,-5.33),(-1.26,-5.55),(-1.47,-5.5),(-1.26,-5.78),(-.95,-5.23),(-.68,-5.07),(-.5,-4.91),(-.7,-5.55),(-.56,-5.65),(-.27,-5.6),(-.27,-5.87),(-1.86,-6),(-1.78,-6.03),(-1.33,-5.94),(0,-6.06),(.2,-6.26),(-.68,-6.22),(-.85,-6.38),(-1.93,-6.51),(-1.76,-6.8),(-1.62,-6.77),(-1.41,-6.51),(-1.76,-6.96),(-1.82,-7.15),(-1.83,-7.31),(-1.33,-7.12),(-1.28,-7.31),(-.94,-6.9),(-.85,-7.12),(-.73,-7.28),(-.46,-6.7),(-.55,-6.83),(-.28,-6.77),(-.19,-6.96),(-.05,-7.12),(.07,-7.25),(.26,-6.67),(-.11,-6.52),(0,-6.67),(-.31,-7.41),(-.81,-7.63),(-.67,-7.66),(0,-7.63),(.17,-7.63),(.3,-7.28),(-.62,-6.5)]
back_red = [(.28,1.93),(.56,2),(.76,2),(.99,2.06),(1.22,2.09),(1.44,2.06),(1.73,2.12),(2.1,2.19),(2.27,2.12),(2.47,2.12),(2.72,2.09),(3,2),(3.2,1.93),(3.38,1.87),(3.58,1.77),(3.77,1.64),(4.03,1.51),(4.23,1.38),(4.51,1.16),(4.77,.9),(4.97,.67),(5.22,.42),(5.39,.2),(5.51,0),(5.68,-.28),(5.79,-.5),(5.9,-.73),(6.02,-.95),(6.13,-1.24),(6.22,-1.58),(6.3,-1.9),(6.33,-2.28),(6.36,-2.67),(6.39,-3.05),(6.39,-3.44),(6.3,-3.76),
(.4,1.95),(.66,2),(.87,2.03),(1.1,2.08),(1.33,2.08),(1.6,2.1),(1.9,2.15),(2.38,2.12),(2.6,2.1),(2.87,2.05),(3.1,1.97),(3.28,1.9),(3.48,1.82),(3.68,1.7),(3.9,1.58),(4.13,1.44),(4.37,1.27),(4.64,1.03),(4.87,.78),(5.1,.55),(5.3,.3),(5.45,.1),(5.6,-.14),(5.73,-.4),(5.85,-.62),(5.96,-.84),(6.07,-1.1),(6.18,-1.4),(6.26,-1.74),(6.3,-2.1),(6.35,-2.47),(6.37,-2.86),(6.39,-3.25),(6.35,-3.6),
(5.3,.0),(5.2,.1),(5.4,-.1),(5.3,-.2),(5.5,-.2),(5.4,-.45),(5.55,-.5),(5.7,-.55),(5.5,-.75),(5.7,-.85),(5.8,-1.0),(5.6,-.95),(5.8,-1.25),(5.55,-1.35),(5.9,-1.45),(6.0,-1.55),(5.6,-1.55),(5.75,-1.6),(6.05,-1.8),(5.95,-2.05),(6.1,-2.2),(6.1,-2.55),(6.2,-2.85),(6.15,-3.1),(6.15,-3.3),(6.05,-3.55),(6.25,-3.25),(5.95,-3.85),(6.1,-3.75),(5.75,-3.95),(5.85,-4.2),(5.6,-4.35),(5.5,-4.45),(5.75,-4.45),(4.9,.45),(4.75,.55),(4.6,.7),(4.5,.85),(4.4,.95),(4.8,.2),(4.6,.25),(4.15,1.25),(3.95,1.3),(3.7,1.45),(3.5,1.5),(4.95,.3),(5.05,.15),(5.2,-.15),(5.0,-.25),(5.15,-.65),(5.35,-.65),(5.35,-.9),(5.5,-1.2)]
fold_red = [(.3,-1.35),(.45,-1.3),(.6,-1.25),(.75,-1.2),(.95,-1.15),(.65,-1.05),(.5,-1.0),(.85,-1.0),(1.15,-1.2),(1.25,-1.1),(1.5,-1.05),(1.65,-1.0),(1.85,-.85),(2.0,-.85),(2.15,-.95),(2.35,-.9),(2.55,-1.05),(2.65,-1.05),(.9,-1.42),(.7,-1.45),(.55,-1.5),(.4,-1.45),(1.2,-1.4),(1.35,-1.35),(1.6,-1.25),(1.75,-1.15),(1.9,-1.15),(2.3,-1.15),(2.4,-1.3),(.4,-1.7),(.6,-1.65),
(.35,1.85),(.45,1.7),(.6,1.8),(.75,1.75),(.9,1.8),(.9,1.65),(1.1,1.85),(1.2,1.65),(.75,1.45),(.95,1.35),(1.4,1.95),(.7,1.35),(.55,1.55),(.35,1.55),(1.9,1.95),(2.1,1.95),(2.45,1.9),(2.6,1.85),(2.9,1.8),(3.1,1.8)]
body_red = [(.37,1.77),(.62,1.58),(.85,1.6),(1.08,1.7),(1.02,1.48),(1.27,1.87),(1.47,1.67),(1.7,1.74),(1.93,1.7),(2.33,1.67),(2.55,1.74),(2.78,1.67),(3.09,1.7),(3.35,1.6),(3.58,1.64),(.51,1.35),(1.36,1.48),(1.67,1.48),(2.01,1.38),(2.21,1.48),(2.44,1.51),(2.61,1.35),(2.78,1.29),(2.95,1.55),(3.06,1.32),(3.29,1.29),(3.63,1.35),(3.92,1.45),
(1.25,1.22),(1.56,1.29),(2.24,1.22),(2.55,1.22),(2.92,1.13),(3.12,1.13),(3.38,1.22),(3.52,1.13),(1.05,1.09),(1.36,1.09),(1.67,1.09),(2.33,1.09),(1.64,.96),(2.04,.96),(2.58,.96),(3.06,.93),(2.75,.9),(3.86,1),(3.97,1.13),(4.17,1.13),(.62,.93),(.85,.96),(.96,.9),(1.25,.85),(2.24,.81),(2.52,.78),(3.41,.85),(3.58,.93),(3.92,.78),(4.46,.68),(4.66,.81),(.51,.6),(.88,.68),(1.76,.6),(1.96,.68),(2.35,.68),(2.92,.58),(3.23,.68),(3.66,.6),(4,.62),(4.37,.68),(.58,.49),(1.05,.55),(1.13,.42),(1.79,.49),(2.01,.42),(2.72,.42),(3.29,.42),(3.8,.45),(4.2,.42),(4.54,.39),(4.83,.39),(5.05,.32),(2.24,.36),(2.81,.36),(3.52,.39),(1.25,.3),(1.42,.23),(1.64,.26),(2.21,.17),(2.52,.17),(2.78,.26),(3.26,.17),(3.52,.2),(3.75,.26),(4.03,.26),(4.2,.17),(4.51,.07),(4.77,.1),(4.94,.17),(5.22,.26),(.37,.07),(.93,.13),(1.13,.07),(1.93,.07),(2.33,.07),(2.75,.04),(3.52,.04),(.82,-.03),(1.02,-.03),(1.36,.04),(1.64,-.03),(2.24,-.1),(2.47,-.1),(3.23,-.03),(3.41,-.03),(3.8,-.17),(4.03,-.03),(4.31,-.13),(4.48,-.13),(4.77,-.03),(5.11,-.03),(5.39,-.03),(.56,-.17),(1.42,-.17),(1.67,-.2),(3.04,-.17),(.45,-.28),(1.3,-.28),(1.56,-.31),(1.98,-.37),(2.21,-.28),(2.89,-.3),(3.15,-.3),(3.58,-.37),(3.75,-.28),(4.23,-.28),(4.66,-.28),(4.94,-.37),(5.34,-.34),(5.62,-.31),(.54,-.42),(1.19,-.44),(1.42,-.48),(2.21,-.5),(3.04,-.48),(3.77,-.4),(5.14,-.5),(.68,-.6),(.85,-.55),(1.64,-.56),(2.44,-.6),(3.23,-.6),(4.46,-.5),(4.6,-.56),(4.83,-.56),(.79,-.7),(1.5,-.7),(1.79,-.73),(2.04,-.73),(2.21,-.73),(3.56,-.65),(3.97,-.65),(4.17,-.69),(4.37,-.67),(4.63,-.7),(5,-.7),(5.62,-.73),(5.88,-.73),(.45,-.8),(1.3,-.78),(2.81,-.73),(4.4,-.92),(5.96,-.86),(.85,-.86),(1.61,-.86),(2.44,-.88),(2.61,-.88),(2.78,-.9),(3.18,-.84),(4.74,-.95),(4.97,-.98),(5.14,-1),(5.37,-1.06),(.62,-.95),(.96,-1),(1.13,-.95),(1.42,-.92),(1.98,-.95),(2.24,-1.02),(3.06,-.95),(3.92,-.95),(4.63,-1.06),(5.62,-1.13),(5.88,-1.06),(6.05,-1.02),(.51,-1.15),(.79,-1.15),(1.08,-1.15),(1.59,-1.12),(1.87,-1.09),(2.1,-1.09),(2.5,-1.12),(2.92,-1.12),(3.12,-1.15),(3.75,-1.06),(3.94,-1.12),(4.74,-1.22),(5,-1.21),(1.39,-1.22),(2.75,-1.22),(3.52,-1.22),(.34,-1.22),(.82,-1.28),(1.02,-1.31),(1.7,-1.31),(1.98,-1.28),(2.24,-1.39),(2.52,-1.34),(2.98,-1.28),(3.72,-1.31),(4.23,-1.34),(4.51,-1.34),(5.73,-1.34),(5.96,-1.28),(6.13,-1.28),
(.56,-1.87),(.45,-1.6),(1.36,-1.7),(1.64,-1.64),(2.04,-1.7),(2.41,-1.7),(3.55,-1.58),(3.94,-1.67),(4.43,-1.83),(4.77,-1.7),(5.05,-1.64),(5.28,-1.77),(5.56,-1.83),(5.85,-1.75),(6.13,-1.7),(.37,-2.03),(1.13,-1.87),(1.13,-2.06),(1.33,-1.93),(2.18,-1.93),(1.93,-2.06),(1.76,-2.19),(2.52,-2.12),(2.78,-1.93),(2.89,-2.09),(3.09,-1.9),(3.32,-1.74),(3.75,-1.93),(3.89,-2.09),(3.52,-2.09),(3.38,-2.25),(4.34,-1.96),(4.63,-2.09),(4.97,-2.06),(5.34,-2.12),(5.53,-2.19),(5.9,-2.22),(6.19,-1.96),(6.25,-2.15),(.68,-2.09),(.9,-2.09),(.71,-2.31),(1.08,-2.31),(1.53,-2.31),(1.9,-2.37),(2.35,-2.31),(2.72,-2.28),(3.12,-2.41),(3.26,-2.41),(3.63,-2.41),(3.86,-2.41),(4.06,-2.31),(4.23,-2.47),(4.51,-2.41),(4.83,-2.28),(5.19,-2.41),(5.62,-2.41),(5.96,-2.34),(6.25,-2.41),(.51,-2.47),(1.27,-2.47),(2.1,-2.5),(2.89,-2.5),(4.85,-2.5),(5.42,-2.54),(5.76,-2.54),(.71,-2.6),(.93,-2.6),(1.47,-2.6),(1.76,-2.6),(2.3,-2.63),(2.75,-2.57),(3.12,-2.67),(3.69,-2.63),(3.89,-2.7),(4.51,-2.63),(5.02,-2.63),(5.34,-2.73),(6.02,-2.67),(6.3,-2.73),(.71,-2.79),(.99,-2.73),(1.53,-2.76),(1.79,-2.79),(2.33,-2.76),(2.59,-2.78),(2.92,-2.79),(3.41,-2.83),(3.75,-2.83),(4.23,-2.83),(4.7,-2.74),(5.56,-2.79),(5.82,-2.83),(6.13,-2.79),(.34,-2.89),(.51,-2.89),(1.13,-2.89),(1.31,-2.89),(1.93,-2.89),(2.13,-2.94),(2.95,-2.96),(3.69,-2.99),(4.4,-2.86),(5,-2.89),(5.31,-2.89),(6.3,-2.99),(.71,-3.02),(.9,-3.02),(1.53,-3.02),(1.73,-3.05),(2.34,-3.02),(2.52,-3.05),(3.31,-3.07),(3.63,-3.12),(4.54,-3.02),(5,-3.05),(5.45,-3.05),(5.65,-3.02),(5.96,-3.12),(6.3,-3.18),(.59,-3.15),(.96,-3.17),(1.39,-3.15),(2.21,-3.18),(2.71,-3.19),(3.01,-3.15),(3.52,-3.19),(4.12,-3.13),(4.77,-3.18),(5.28,-3.21),(5.82,-3.21),(.51,-3.31),(1.3,-3.31),(2.1,-3.34),(2.89,-3.34),(3.23,-3.34),(3.8,-3.24),(4.2,-3.21),(4.51,-3.31),(5.11,-3.34),(5.65,-3.34),(6.08,-3.37),(6.3,-3.44),(.79,-3.44),(.95,-3.44),(1.76,-3.37),(2.47,-3.45),(2.78,-3.5),(3.63,-3.5),(3.97,-3.44),(4.23,-3.49),(4.85,-3.49),(5.42,-3.49),(5.88,-3.5),(6.19,-3.63),(1.62,-3.49),(.56,-3.6),(1.36,-3.53),(2.13,-3.6),(3.23,-3.5),(3.06,-3.63),(3.83,-3.63),(4.4,-3.63),(5,-3.6),(5.62,-3.63),(.45,-3.76),(1.05,-3.68),(1.33,-3.74),(1.81,-3.71),(2.24,-3.63),(2.89,-3.66),(2.72,-3.76),(3.41,-3.77),(4.09,-3.71),(4.71,-3.74),(5.39,-3.76),(5.9,-3.76),(6.25,-3.72),(1.22,-3.88),(2.1,-3.88),(3.06,-3.9),(3.32,-3.98),(3.8,-3.85),(3.58,-3.95),(4.37,-3.9),(4.51,-3.85),(5.04,-3.85),(5.59,-3.88),(6.19,-3.92),(.51,-4.04),(1.13,-4.04),(1.93,-4.04),(2.72,-4.04),(4,-3.98),(4.68,-3.98),(5.25,-3.98),(5.76,-4.04),(5.96,-4.01),(6.25,-3.98),(.39,-4.2),(1.22,-4.2),(2.04,-4.17),(2.84,-4.17),(3.35,-4.14),(3.52,-4.07),(3.69,-4.27),(4.31,-4.17),(5.25,-4.17),(5.56,-4.17),(6.19,-4.17),(.72,-4.32),(1.53,-4.32),(2.3,-4.33),(3.06,-4.3),(3.97,-4.33),(4.37,-4.3),(4.71,-4.33),(5.02,-4.3),(5.76,-4.3),(6.02,-4.33),(.96,-4.43),(1.93,-4.27),(1.76,-4.43),(2.75,-4.46),(2.52,-4.43),(3.38,-4.41),(5.31,-4.43),(5.62,-4.46),(5.88,-4.46),(6.44,-4.27),(.54,-4.56),(1.33,-4.51),(1.02,-4.62),(1.81,-4.59),(2.13,-4.58),(2.58,-4.59),(2.89,-4.56),(3.58,-4.53),(4.26,-4.56),(4.54,-4.59),(5,-4.56),(5.17,-4.59),(5.5,-4.59),(5.96,-4.56),(.65,-4.72),(1.42,-4.69),(2.24,-4.72),(2.44,-4.72),(3.15,-4.72),(3.41,-4.65),(3.85,-4.71),(4.66,-4.78),(5.34,-4.75),(5.88,-4.75),(6.13,-4.75),(6.33,-4.65),(6.56,-4.65),
(.34,-4.94),(.85,-4.85),(1.13,-4.85),(1.13,-5.04),(1.62,-4.75),(1.62,-4.94),(1.93,-4.78),(1.93,-5.04),(2.41,-4.91),(2.72,-4.85),(2.94,-4.97),(3.23,-4.78),(3.21,-5.1),(3.46,-4.88),(3.72,-4.97),(4.03,-4.91),(4.26,-4.94),(4.4,-4.97),(4.77,-4.81),(5.04,-4.91),(4.94,-5.04),(5.54,-4.97),(5.22,-5.07),(5.92,-5),(5.92,-5.29),(.34,-5.1),(.82,-5.1),(1.42,-5.17),(1.64,-5.1),(2.24,-5.23),(2.47,-5.13),(2.72,-5.1),(3.01,-5.23),(3.52,-5.07),(3.97,-5.1),(4.14,-5.23),(4.54,-5.1),(4.83,-5.23),(5.34,-5.2),(5.62,-5.29),(.59,-5.17),(.9,-5.29),(1.33,-5.29),(1.73,-5.36),(2.1,-5.26),(2.52,-5.36),(2.78,-5.3),(3.29,-5.33),(3.49,-5.23),(3.8,-5.23),(4.34,-5.35),(4.6,-5.26),(5.08,-5.3),(5.45,-5.42),(.39,-5.36),(.56,-5.42),(.96,-5.49),(1.3,-5.49),(1.79,-5.62),(2.13,-5.52),(2.95,-5.49),(3.32,-5.52),(3.72,-5.49),(4,-5.49),(4.23,-5.52),(4.66,-5.49),(4.88,-5.46),(5.22,-5.52),(5.74,-5.52),(.54,-5.71),(.96,-5.68),(1.33,-5.78),(2.13,-5.81),(2.52,-5.68),(2.72,-5.65),(3.18,-5.68),(3.43,-5.81),(3.69,-5.84),(3.92,-5.65),(4.2,-5.65),(4.48,-5.65),(4.94,-5.68),(5.34,-5.71),(5.74,-5.81),(.73,-5.9),(1.56,-5.9),(1.93,-5.94),(2.3,-5.9),(2.78,-5.81),(2.95,-5.74),(3.06,-5.97),(3.72,-6),(4.09,-5.81),(4.63,-5.74),(4.77,-5.9),(5.11,-5.74),(4.37,-5.97),(4.97,-5.97),(5.34,-6),(.34,-6.03),(.85,-6.06),(1.12,-5.97),(1.62,-6.06),(2.43,-6.06),(3.23,-6.12),(3.89,-6),(4.03,-6.1),(4.66,-6.03),(5.51,-6.1),(.99,-6.22),(1.81,-6.1),(2.61,-6.16),(2.78,-6.22),(3.43,-6.24),(4.14,-6.24),(4.48,-6.19),(4.77,-6.22),(5.14,-6.19),(5.74,-6.22),(1.13,-6.35),(1.76,-6.29),(1.93,-6.35),(2.55,-6.29),(2.84,-6.42),(3.49,-6.38),(3.66,-6.38),(3.86,-6.42),(4.31,-6.38),(4.94,-6.38),(5.82,-6.45),(.71,-6.42),(1.5,-6.42),(2.33,-6.42),(.59,-6.55),(1.02,-6.56),(1.42,-6.55),(2.24,-6.55),(2.72,-6.51),(3.05,-6.53),(3.69,-6.51),(4.26,-6.58),(4.46,-6.58),(4.83,-6.58),(5.22,-6.58),(6.03,-6.61),(.83,-6.67),(1.64,-6.67),(1.83,-6.61),(2.43,-6.67),(2.64,-6.61),(3.23,-6.67),(3.6,-6.67),(3.89,-6.61),(4.23,-6.7),(4.66,-6.7),(5.44,-6.72),(.39,-6.74),(1.25,-6.74),(2.04,-6.74),(2.75,-6.74),(3.06,-6.77),(3.94,-6.74),(.56,-6.9),(1.05,-6.8),(1.33,-6.87),(1.83,-6.83),(2.15,-6.96),(2.92,-6.8),(3.09,-6.9),(3.43,-6.9),(3.75,-6.87),(4.26,-6.9),(4.93,-6.85),(5.85,-6.8),(6.1,-6.9),(.39,-7.03),(1.19,-7.09),(1.6,-7.09),(1.93,-7.09),(2.33,-7.19),(2.81,-7.12),(3.35,-7.09),(3.69,-7.03),(3.92,-7.03),(4.51,-7.03),(5.34,-7.03),(5.18,-7.12),(5.81,-7.09),(.73,-7.12),(1.3,-7),(.85,-7.35),(1.27,-7.28),(2.1,-7.25),(2.92,-7.25),(3.26,-7.31),(3.58,-7.28),(3.89,-7.28),(4.26,-7.36),(4.63,-7.19),(.34,-7.44),(.99,-7.41),(1.16,-7.46),(1.64,-7.41),(1.97,-7.46),(2.41,-7.41),(2.61,-7.41),(2.78,-7.35),(3.69,-7.44),(3.46,-7.5),(.72,-7.6),(.83,-7.65),(.99,-7.6),(1.53,-7.6),(1.64,-7.65),(1.8,-7.6),(2.34,-7.6),(2.47,-7.63),(2.61,-7.63),(2.76,-7.59),(2.97,-7.6),(3.18,-7.57),(3.35,-7.62),(3.55,-7.54)]
tail_red = [(6.5,-3.66),(6.67,-3.66),(6.79,-3.69),(7.05,-3.68),(7.33,-3.76),(7.55,-3.82),(7.69,-4.08),(7.75,-4.27),(7.81,-4.53),(7.81,-4.78),(7.81,-5.1),(7.72,-5.36),(7.67,-5.55),(7.58,-5.71),(7.44,-5.9),(7.3,-6.1),(7.15,-6.26),(6.96,-6.42),(6.76,-6.51),(6.56,-6.38),(6.39,-6.32),(6.25,-6.16),(6.1,-5.97),(6.08,-5.71),(6.13,-5.46),(6.22,-5.36),
(7.61,-4.14),(7.69,-4.33),(7.67,-4.59),(7.69,-4.91),(7.64,-5.23),(7.55,-5.42),(7.47,-5.55),(7.38,-5.74),(7.24,-5.87),(7.07,-6.07),(6.9,-6.23),(6.73,-6.38),(7.78,-4.4),(7.8,-4.65),(7.82,-4.92),(7.78,-5.22),(7.43,-3.78),(7.62,-3.95),(6.42,-3.88),(6.59,-3.72),(6.73,-3.88),(6.93,-3.88),(7.01,-4.08),(6.76,-4.08),(6.64,-4.2),(7.18,-3.97),(7.3,-4.11),(7.18,-4.2),(6.87,-4.39),(6.73,-4.53),(7.04,-4.53),(7.38,-4.43),(7.55,-4.46),(7.3,-4.68),(7.47,-4.78),(7.1,-4.75),(6.87,-4.78),(7.01,-4.94),(7.15,-4.94),(6.73,-4.97),(6.73,-5.26),(7.33,-5.07),(7.47,-5.07),(7.01,-5.2),(7.18,-5.3),(7.35,-5.3),(6.87,-5.49),(6.76,-5.65),(7.1,-5.55),(6.96,-5.78),(6.6,-5.9),(6.76,-6.03),(6.5,-5.49),(6.42,-5.3),(6.59,-5.33),(6.33,-5.78),(6.19,-5.42),(6.5,-6.54),(6.56,-6.74),(6.53,-4.81),(6.25,-4.91)]

cyan_a = np.array(ear_cyan + ear2_cyan + body_cyan + overlap_cyan_a)
cyan_common = np.array(ear_cyan + ear2_cyan + body_cyan)
cyan_b = np.array(overlap_cyan_b)
red_a = np.array(ear_red + mid_red + back_red + fold_red + body_red + tail_red)
red_b = np.array(ear_red + mid_red + back_red + fold_red + body_red + tail_red + overlap_red_b)

# panel (b) keeps only the head and the far left of the shared cyan points
keep = (cyan_common[:, 0] < -4) | (cyan_common[:, 1] > 3.2)
cyan_b = np.vstack([cyan_common[keep], cyan_b])


def draw_panel(rect, red, cyan):
    left, top, right, bottom = rect
    ax = fig.add_axes([left/3600, 1-bottom/1602, (right-left)/3600, (bottom-top)/1602])
    ax.scatter(red[:, 0], red[:, 1], s=225, c='#ff0000', linewidths=0, zorder=2)
    ax.scatter(cyan[:, 0], cyan[:, 1], s=225, c='#00ffff', linewidths=0, zorder=3)
    ax.set_xlim(-8, 8)
    ax.set_ylim(-8, 8)
    ax.set_xticks(ticks)
    ax.set_yticks(ticks)
    ax.spines['top'].set_visible(False)
    ax.spines['right'].set_visible(False)
    ax.spines['left'].set_linewidth(1.2)
    ax.spines['bottom'].set_linewidth(1.2)
    ax.tick_params(axis='x', direction='in', length=14, width=1.1, labelsize=35, pad=17)
    ax.tick_params(axis='y', direction='in', length=11, width=1.1, labelsize=35, pad=10)
    return ax


fig = plt.figure(figsize=(36, 16.02), dpi=100)
draw_panel((63.7, 47.4, 1680.7, 1323), red_a, cyan_a)
draw_panel((1958, 38, 3571, 1310), red_b, cyan_b)

fig.text(900/3600, 1-1572/1602, captions[0], family='Liberation Serif', fontsize=64,
         ha='center', va='baseline')
fig.text(2788/3600, 1-1562/1602, captions[1], family='Liberation Serif', fontsize=64,
         ha='center', va='baseline')

plt.savefig('out.png', dpi=100)
